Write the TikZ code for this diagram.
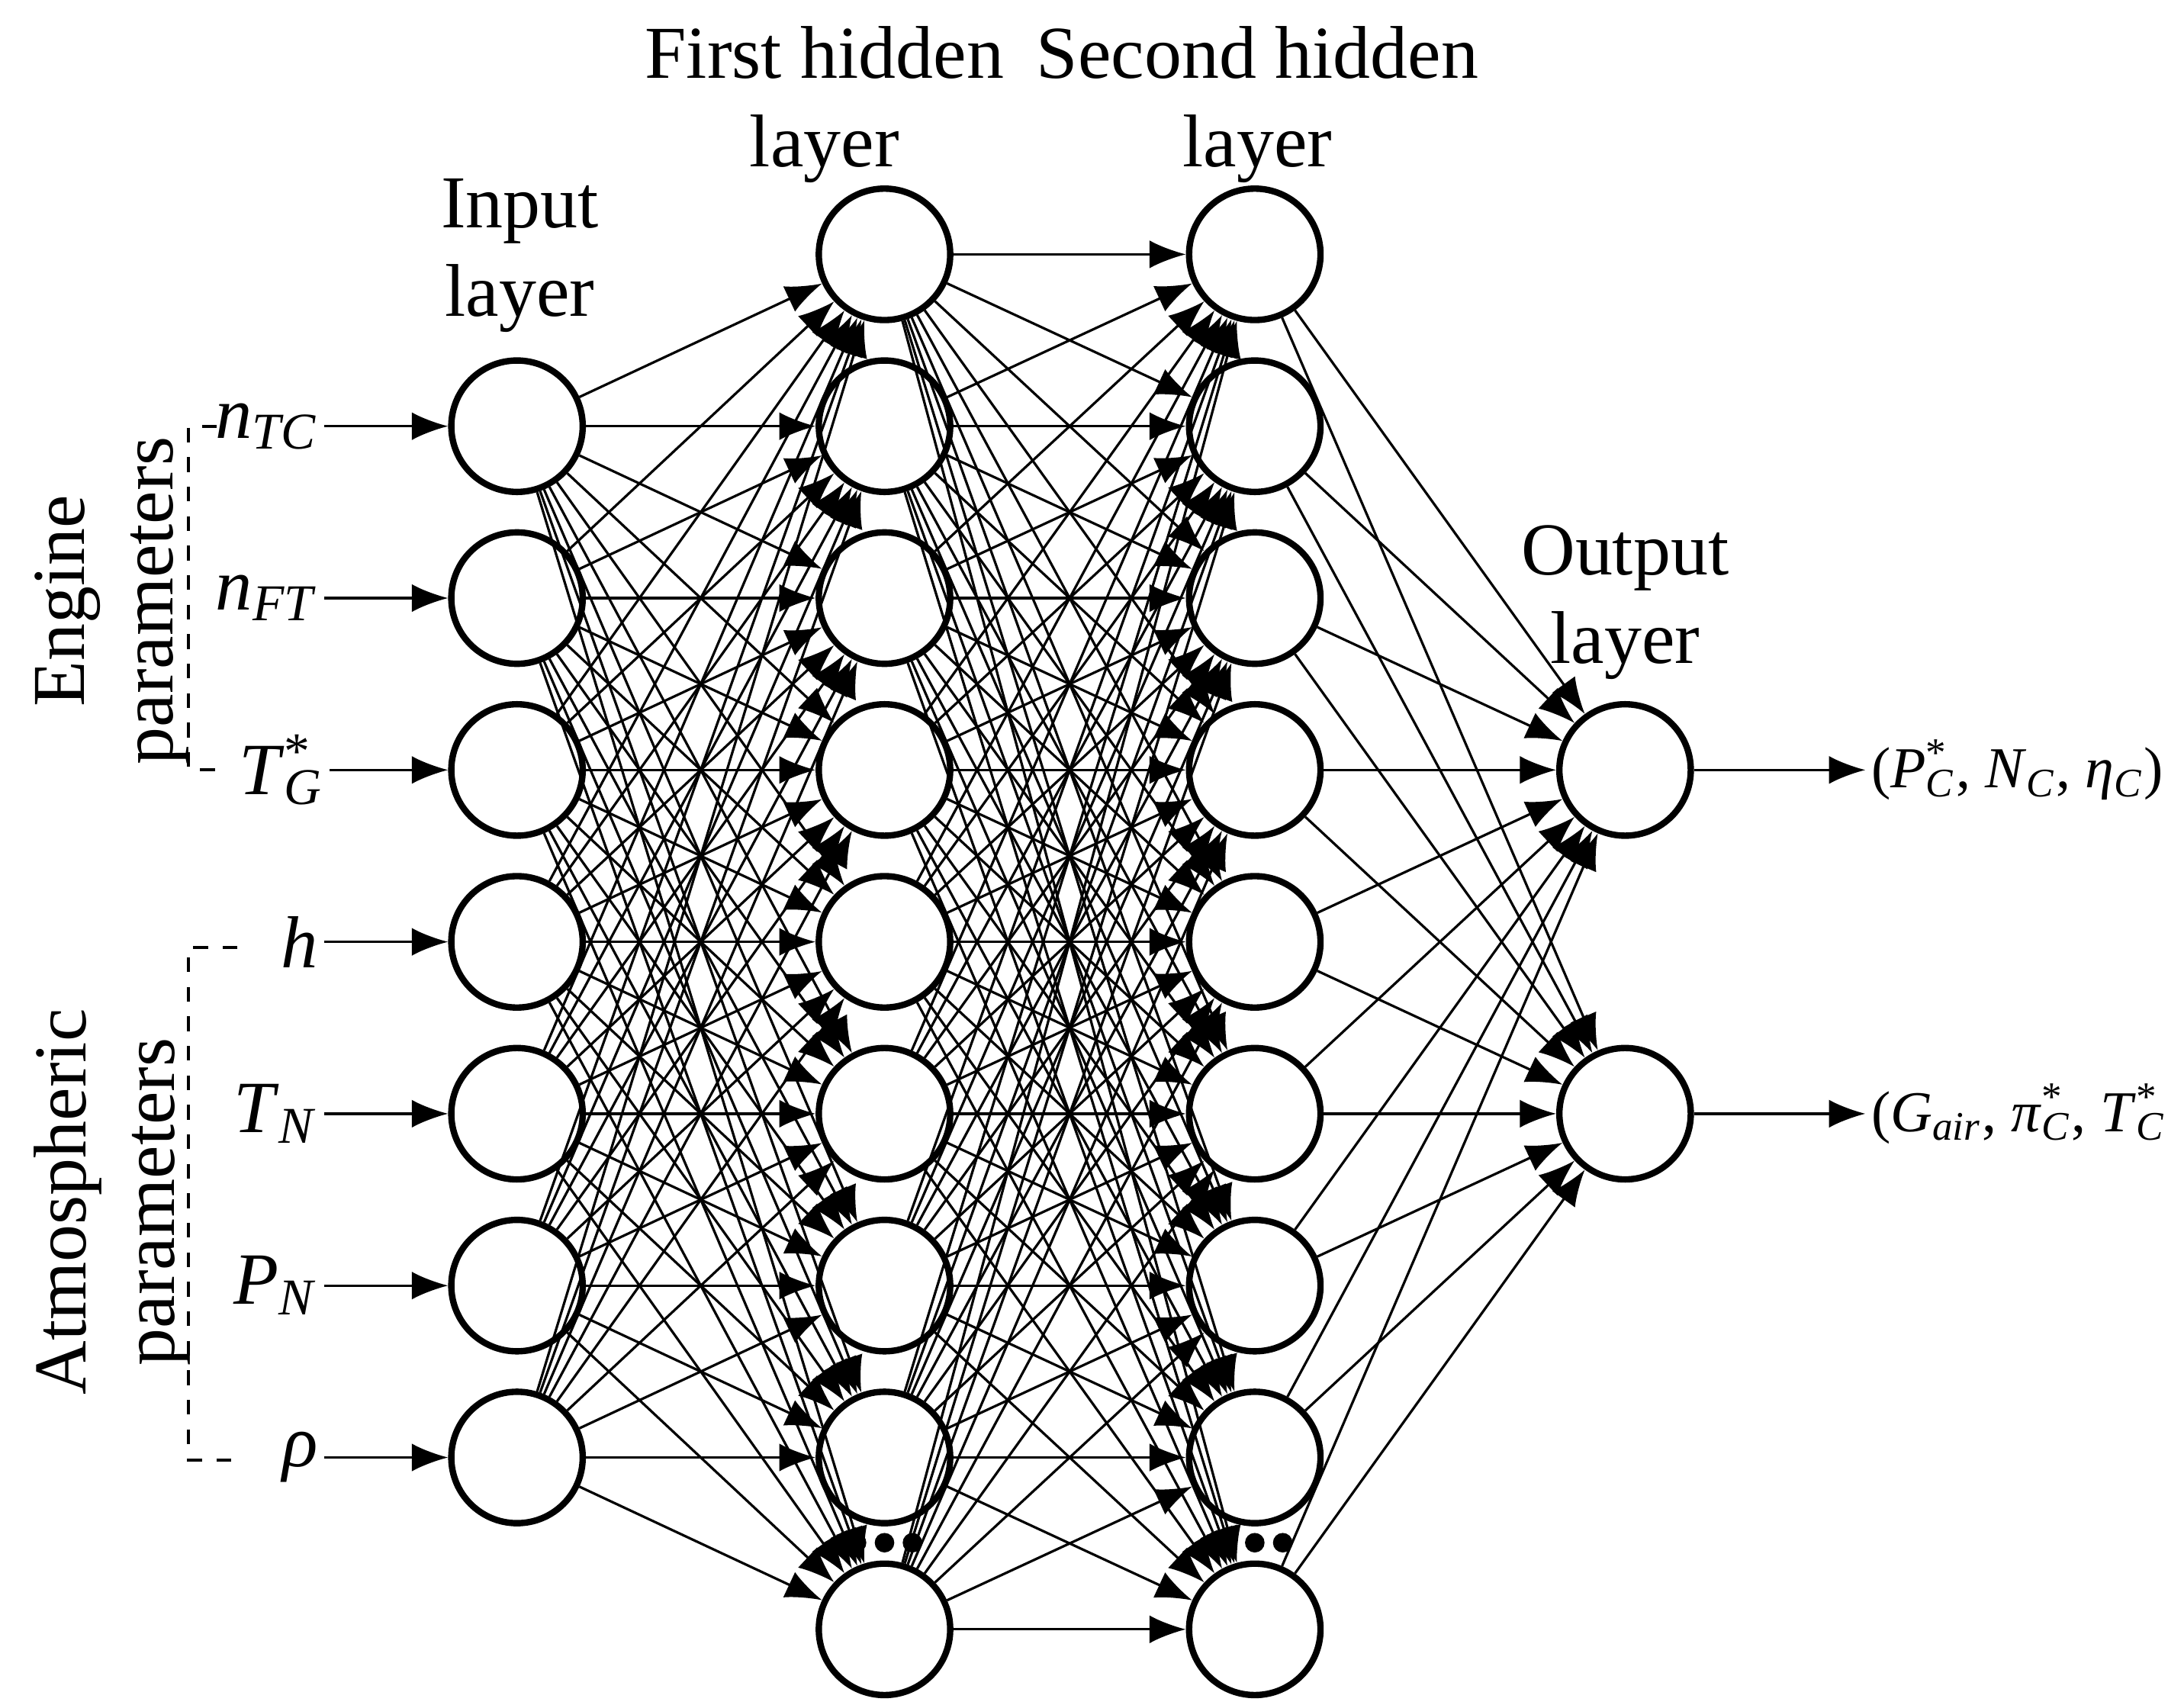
\documentclass[tikz,border=0pt]{standalone}
\usepackage{fontspec}
\setmainfont{Liberation Serif}
\usetikzlibrary{arrows.meta}
\newcommand{\vsub}[2]{\textit{#1}\textsubscript{\textit{#2}}}
\newcommand{\vsubsup}[3]{\textit{#1}\rlap{\textsuperscript{#3}}\textsubscript{\textit{#2}}}
\tikzset{
  neuron/.style={circle, draw, line width=1.3pt, minimum size=0.94cm, inner sep=0pt},
  conn/.style={line width=0.5pt, -{Latex[length=2.6mm,width=2mm]}},
  title/.style={font=\fontsize{15.2}{18}\selectfont, align=center},
  lab/.style={font=\fontsize{15}{18}\selectfont},
  olab/.style={font=\fontsize{11.8}{14}\selectfont},
  brk/.style={dashed, line width=0.6pt}
}
\begin{document}
\begin{tikzpicture}[x=0.01cm,y=-0.01cm]
\useasboundingbox (0,0) rectangle (1563,1220);
% layers
\foreach \k [evaluate=\k as \yy using 182+123*\k] in {1,...,7}
  \node[neuron] (i\k) at (370,\yy) {};
\foreach \k [evaluate=\k as \yy using 59+123*\k] in {1,...,9} {
  \node[neuron] (a\k) at (633,\yy) {};
  \node[neuron] (b\k) at (898,\yy) {};
}
\node[neuron] (o1) at (1163,551) {};
\node[neuron] (o2) at (1163,797) {};
% connections
\foreach \s in {1,...,7}
  \foreach \t in {1,...,9}
    \draw[conn] (i\s) -- (a\t);
\foreach \s in {1,...,9}
  \foreach \t in {1,...,9}
    \draw[conn] (a\s) -- (b\t);
\foreach \s in {1,...,9}
  \foreach \t in {1,2}
    \draw[conn] (b\s) -- (o\t);
% dots
\foreach \xx in {613,633,653,878,898,918}
  \fill (\xx,1104) circle (7);
% titles
\node[title] (tin) at (372,183) {Input\\layer};
\node[title] (ta) at (590,75) {First hidden\\layer};
\node[title] (tb) at (900,75) {Second hidden\\layer};
\node[title] (to) at (1163,431) {Output\\layer};
% inputs
\node[lab, anchor=east, inner sep=1pt] (x1) at (232,305) {\vsub{n}{TC}};
\node[lab, anchor=east, inner sep=1pt] (x2) at (232,428) {\vsub{n}{FT}};
\node[lab, anchor=east, inner sep=1pt] (x3) at (236,551) {\vsubsup{T}{G}{*}};
\node[lab, anchor=east, inner sep=1pt] (x4) at (232,674) {\textit{h}};
\node[lab, anchor=east, inner sep=1pt] (x5) at (232,797) {\vsub{T}{N}};
\node[lab, anchor=east, inner sep=1pt] (x6) at (232,920) {\vsub{P}{N}};
\node[lab, anchor=east, inner sep=1pt] (x7) at (232,1043) {\textit{ρ}};
\foreach \k in {1,...,7}
  \draw[conn] (x\k.east) -- (i\k);
% outputs
\node[olab, anchor=west, inner sep=1pt] (y1) at (1335,551) {(\vsubsup{P}{C}{*}, \vsub{N}{C}, \vsub{η}{C})};
\node[olab, anchor=west, inner sep=1pt] (y2) at (1335,797) {(\vsub{G}{air}, \vsubsup{π}{C}{*}, \vsubsup{T}{C}{*}\hspace{0.5em})};
\draw[conn] (o1) -- (y1.west);
\draw[conn] (o2) -- (y2.west);
% brackets
\coordinate (e1) at (155,305);
\coordinate (e2) at (158,551);
\coordinate (h1) at (170,678);
\coordinate (h2) at (170,1045);
\draw[brk] (e1) -- (135,305) -- (135,551) -- (e2);
\draw[brk] (h1) -- (135,678) -- (135,1045) -- (h2);
\node[title, rotate=90] (eng) at (80,430) {Engine\\parameters};
\node[title, rotate=90] (atm) at (80,860) {Atmospheric\\parameters};
\end{tikzpicture}
\end{document}
